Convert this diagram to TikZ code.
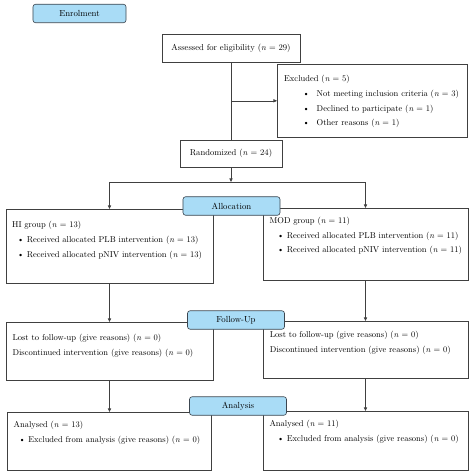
\documentclass[tikz,border=0pt]{standalone}
\usepackage{tikz}
\definecolor{Stageblue}{HTML}{A9DCF6}
\definecolor{Stageline}{HTML}{3C4650}
\definecolor{Boxline}{HTML}{404040}
\usetikzlibrary{arrows.meta}
\tikzstyle{stage} = [
    rectangle, rounded corners=3pt,
    minimum width=3.88cm,
    minimum height=0.74cm,
    text centered,
    draw=Stageline, line width=0.7pt,
    fill=Stageblue,
    font=\fontsize{10pt}{12pt}\selectfont
]
\tikzstyle{box} = [
    rectangle,
    text centered,
    draw=Boxline, line width=0.7pt,
    fill=white,
    font=\fontsize{9.8pt}{12pt}\selectfont
]
\tikzstyle{info} = [
    inner sep=0pt,
    align=left,
    anchor=north west,
    font=\fontsize{9.7pt}{16.8pt}\selectfont
]
\tikzstyle{arrow} = [
    line width=0.7pt, draw=Boxline,
    -{Triangle[length=4pt,width=3.6pt]}
]
\newcommand{\nn}[1]{(\textit{n} = #1)}

\begin{document}
\begin{tikzpicture}[x=0.04cm, y=-0.04cm]
    \useasboundingbox (0,0) rectangle (474,474);

    % enrolment
    \node (assessed) [box, minimum width=5.52cm, minimum height=1.12cm] at (231,48) {Assessed for eligibility \nn{29}};
    \node (excl)     [box, minimum width=7.6cm, minimum height=2.92cm, anchor=north west] at (277,64) {};
    \node (rand)     [box, minimum width=4.08cm, minimum height=1.08cm] at (231,153.5) {Randomized \nn{24}};
    \coordinate (split) at (231,182);

    % groups
    \node (hi)  [box, minimum width=8.28cm, minimum height=2.96cm, anchor=north] at (109.5,209) {};
    \node (mod) [box, minimum width=8.2cm, minimum height=2.88cm, anchor=north] at (365.5,208) {};
    \node (fuL) [box, minimum width=8.28cm, minimum height=2.32cm, anchor=north] at (109.5,322) {};
    \node (fuR) [box, minimum width=8.2cm, minimum height=2.28cm, anchor=north] at (365.5,321) {};
    \node (anL) [box, minimum width=8.16cm, minimum height=2.32cm, anchor=north] at (109.5,412) {};
    \node (anR) [box, minimum width=8.2cm, minimum height=2.36cm, anchor=north] at (365.5,411) {};

    % texts in the boxes
    \node (exclTxt) [info] at ([shift={(7,11)}]excl.north west)
        {Excluded \nn{5}\\
         \hspace*{21.4pt}\textbullet\hspace*{8.1pt}Not meeting inclusion criteria \nn{3}\\
         \hspace*{21.4pt}\textbullet\hspace*{8.1pt}Declined to participate \nn{1}\\
         \hspace*{21.4pt}\textbullet\hspace*{8.1pt}Other reasons \nn{1}};
    \node (hiTxt)  [info] at ([shift={(6.3,12)}]hi.north west)
        {HI group \nn{13}\\
         \hspace*{5.9pt}\textbullet\ Received allocated PLB intervention \nn{13}\\
         \hspace*{5.9pt}\textbullet\ Received allocated pNIV intervention \nn{13}};
    \node (modTxt) [info] at ([shift={(6.7,8.7)}]mod.north west)
        {MOD group \nn{11}\\
         \hspace*{8.9pt}\textbullet\ Received allocated PLB intervention \nn{11}\\
         \hspace*{8.9pt}\textbullet\ Received allocated pNIV intervention \nn{11}};
    \node (fuLTxt) [info] at ([shift={(6.7,12)}]fuL.north west)
        {Lost to follow-up (give reasons) \nn{0}\\
         Discontinued intervention (give reasons) \nn{0}};
    \node (fuRTxt) [info] at ([shift={(7,10)}]fuR.north west)
        {Lost to follow-up (give reasons) \nn{0}\\
         Discontinued intervention (give reasons) \nn{0}};
    \node (anLTxt) [info] at ([shift={(6.3,9)}]anL.north west)
        {Analysed \nn{13}\\
         \hspace*{5.9pt}\textbullet\ Excluded from analysis (give reasons) \nn{0}};
    \node (anRTxt) [info] at ([shift={(6.7,9)}]anR.north west)
        {Analysed \nn{11}\\
         \hspace*{8.9pt}\textbullet\ Excluded from analysis (give reasons) \nn{0}};

    % connectors
    \draw [line width=0.7pt, draw=Boxline] (assessed) -- (rand);
    \draw [arrow] (assessed.south |- excl.west) -- (excl.west);
    \draw [arrow] (rand) -- (split);
    \draw [arrow] (split) -| (hi);
    \draw [arrow] (split) -| (mod);
    \draw [arrow] (hi)  -- (fuL);
    \draw [arrow] (mod) -- (fuR);
    \draw [arrow] (fuL) -- (anL);
    \draw [arrow] (fuR) -- (anR);

    % stage labels
    \node (enrol)  [stage, minimum width=3.72cm] at (79.5,13.5) {Enrolment};
    \node (alloc)  [stage] at (231.5,206) {Allocation};
    \node (follow) [stage] at (236,320) {Follow-Up};
    \node (anal)   [stage] at (238,406) {Analysis};

\end{tikzpicture}
\end{document}
